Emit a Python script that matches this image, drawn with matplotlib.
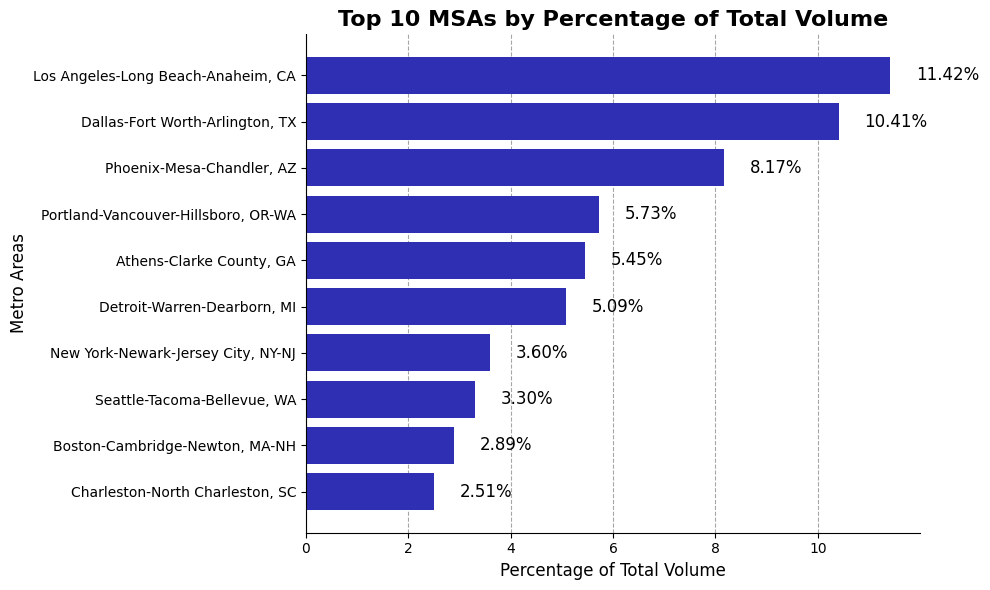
import matplotlib
matplotlib.use("Agg")
import matplotlib.pyplot as plt

msas = ["Los Angeles-Long Beach-Anaheim, CA", "Dallas-Fort Worth-Arlington, TX",
        "Phoenix-Mesa-Chandler, AZ", "Portland-Vancouver-Hillsboro, OR-WA",
        "Athens-Clarke County, GA", "Detroit-Warren-Dearborn, MI",
        "New York-Newark-Jersey City, NY-NJ", "Seattle-Tacoma-Bellevue, WA",
        "Boston-Cambridge-Newton, MA-NH", "Charleston-North Charleston, SC"]
pct = [11.42, 10.41, 8.17, 5.73, 5.45, 5.09, 3.60, 3.30, 2.89, 2.51]

fig, ax = plt.subplots(figsize=(9.9, 5.9), dpi=100)
bars = ax.barh(msas[::-1], pct[::-1], color="#2e2fb2", zorder=2)
for b, v in zip(bars, pct[::-1]):
    ax.text(v + 0.5, b.get_y() + b.get_height() / 2, f"{v:.2f}%",
            va="center", ha="left", fontsize=12)

ax.set_title("Top 10 MSAs by Percentage of Total Volume", fontsize=16, fontweight="bold")
ax.set_xlabel("Percentage of Total Volume", fontsize=12)
ax.set_ylabel("Metro Areas", fontsize=12)
ax.xaxis.grid(True, linestyle="--", color="gray", alpha=0.7, zorder=0)
ax.set_axisbelow(True)
ax.spines["top"].set_visible(False)
ax.spines["right"].set_visible(False)

fig.subplots_adjust(left=0.309, right=0.929, top=0.942, bottom=0.097)
plt.savefig("out.png")
